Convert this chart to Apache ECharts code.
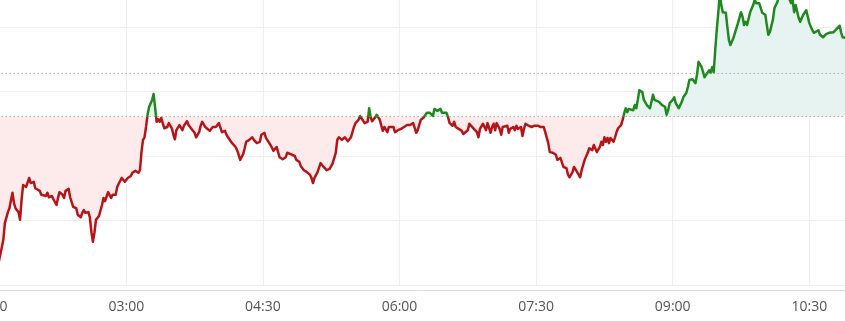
<!DOCTYPE html>
<html>
<head>
<meta charset="utf-8">
<script src="https://cdn.jsdelivr.net/npm/echarts@6/dist/echarts.min.js"></script>
<style>
html,body{margin:0;padding:0;background:#ffffff;}
#chart{width:845px;height:321px;}
</style>
</head>
<body>
<div id="chart"></div>
<script>
// Intraday quote times (HH:MM)
const times = [
"01:36","01:37","01:39","01:40","01:41","01:42","01:43","01:45","01:46","01:47","01:49","01:50","01:51","01:52","01:53","01:54","01:56","01:57","01:59",
"02:00","02:01","02:03","02:04","02:05","02:07","02:08","02:09","02:11","02:12","02:14","02:15","02:16","02:18","02:19","02:20","02:22","02:23","02:25","02:27","02:28","02:30","02:31","02:32","02:33","02:35","02:36","02:37","02:38","02:39","02:40","02:42","02:43","02:44","02:45","02:46","02:47","02:48","02:50","02:51","02:53","02:54","02:55","02:57","02:58","02:59",
"03:01","03:03","03:04","03:06","03:08","03:09","03:10","03:11","03:12","03:13","03:14","03:15","03:16","03:17","03:18","03:19","03:20","03:21","03:22","03:23","03:24","03:25","03:27","03:28","03:30","03:31","03:32","03:33","03:35","03:36","03:37","03:38","03:40","03:41","03:42","03:43","03:45","03:46","03:48","03:49","03:50","03:52","03:53","03:55","03:56","03:57","03:59",
"04:00","04:01","04:02","04:03","04:05","04:06","04:07","04:09","04:10","04:12","04:13","04:14","04:15","04:17","04:18","04:19","04:21","04:22","04:23","04:24","04:26","04:27","04:28","04:29","04:31","04:32","04:33","04:35","04:36","04:37","04:39","04:40","04:41","04:43","04:44","04:45","04:46","04:47","04:49","04:51","04:52","04:54","04:55","04:57","04:58","04:59",
"05:01","05:02","05:03","05:04","05:06","05:07","05:08","05:10","05:11","05:12","05:14","05:15","05:16","05:18","05:19","05:20","05:22","05:23","05:24","05:26","05:27","05:28","05:29","05:30","05:31","05:33","05:34","05:35","05:37","05:38","05:39","05:40","05:41","05:42","05:43","05:44","05:45","05:47","05:48","05:49","05:50","05:52","05:53","05:54","05:56","05:57","05:58","05:59",
"06:01","06:02","06:03","06:05","06:06","06:07","06:09","06:10","06:11","06:12","06:13","06:14","06:16","06:17","06:18","06:20","06:21","06:22","06:23","06:24","06:25","06:27","06:28","06:29","06:31","06:32","06:33","06:34","06:35","06:36","06:37","06:38","06:39","06:41","06:42","06:43","06:45","06:46","06:47","06:49","06:50","06:51","06:52","06:53","06:55","06:56","06:57","06:58",
"07:00","07:01","07:02","07:03","07:04","07:06","07:07","07:08","07:09","07:11","07:12","07:13","07:15","07:16","07:17","07:18","07:20","07:21","07:22","07:23","07:25","07:26","07:27","07:29","07:30","07:31","07:33","07:34","07:35","07:36","07:38","07:39","07:41","07:42","07:43","07:44","07:46","07:47","07:48","07:50","07:51","07:52","07:54","07:55","07:56","07:58","07:59",
"08:00","08:02","08:03","08:04","08:05","08:07","08:08","08:09","08:10","08:12","08:13","08:14","08:15","08:16","08:17","08:18","08:19","08:21","08:22","08:23","08:24","08:26","08:27","08:28","08:29","08:30","08:31","08:32","08:34","08:35","08:36","08:37","08:38","08:39","08:40","08:41","08:42","08:43","08:45","08:46","08:47","08:48","08:49","08:51","08:52","08:53","08:55","08:56","08:57","08:58",
"09:00","09:01","09:02","09:03","09:04","09:05","09:06","09:07","09:09","09:10","09:11","09:13","09:14","09:15","09:16","09:17","09:18","09:19","09:20","09:21","09:22","09:24","09:25","09:26","09:27","09:28","09:29","09:30","09:31","09:32","09:33","09:35","09:36","09:37","09:38","09:40","09:41","09:42","09:43","09:45","09:46","09:47","09:48","09:49","09:50","09:51","09:53","09:54","09:55","09:57","09:58","09:59",
"10:01","10:02","10:03","10:04","10:05","10:06","10:07","10:08","10:09","10:10","10:12","10:14","10:16","10:18","10:19","10:20","10:21","10:23","10:24","10:26","10:28","10:29","10:30","10:32","10:33","10:34","10:36","10:37","10:38","10:39","10:41","10:42","10:43","10:44","10:46","10:47","10:48","10:50","10:51","10:52","10:54"
];

// Price at each time
const prices = [
100.36,100.39,100.70,100.96,100.95,101.13,101.19,101.43,101.27,101.19,101.13,101.01,101.32,101.55,101.55,101.52,101.66,101.58,101.60,
101.50,101.47,101.46,101.40,101.43,101.38,101.43,101.36,101.38,101.33,101.24,101.35,101.44,101.40,101.35,101.46,101.49,101.36,101.21,101.19,101.09,101.05,101.12,101.16,101.12,101.13,101.05,100.82,100.67,100.81,101.01,101.07,101.09,101.24,101.35,101.30,101.27,101.44,101.35,101.40,101.40,101.52,101.57,101.66,101.64,101.60,
101.66,101.69,101.74,101.77,101.74,101.78,102.06,102.25,102.29,102.45,102.64,102.76,102.79,102.87,102.96,102.98,102.53,102.57,102.53,102.59,102.51,102.43,102.45,102.51,102.43,102.33,102.26,102.40,102.48,102.51,102.40,102.47,102.54,102.48,102.51,102.42,102.36,102.29,102.37,102.47,102.53,102.45,102.42,102.39,102.37,102.45,102.45,
102.47,102.51,102.51,102.37,102.39,102.33,102.29,102.22,102.20,102.14,102.09,102.02,101.94,102.03,102.12,102.22,102.25,102.22,102.29,102.25,102.20,102.19,102.22,102.33,102.36,102.28,102.25,102.17,102.14,102.08,102.14,102.06,101.98,101.95,101.94,101.98,102.05,102.02,102.02,102.00,101.94,101.91,101.84,101.78,101.81,101.75,
101.71,101.66,101.58,101.66,101.75,101.75,101.89,101.83,101.84,101.78,101.80,101.83,101.89,102.05,102.25,102.29,102.25,102.25,102.29,102.23,102.25,102.29,102.28,102.45,102.51,102.56,102.62,102.60,102.51,102.54,102.53,102.74,102.60,102.54,102.53,102.60,102.64,102.56,102.47,102.39,102.45,102.37,102.45,102.47,102.45,102.37,102.36,102.40,
102.42,102.43,102.45,102.48,102.51,102.48,102.51,102.54,102.36,102.40,102.43,102.56,102.60,102.62,102.67,102.67,102.68,102.62,102.73,102.74,102.70,102.73,102.67,102.65,102.67,102.60,102.51,102.54,102.47,102.53,102.45,102.43,102.42,102.39,102.34,102.34,102.40,102.50,102.51,102.42,102.45,102.37,102.29,102.42,102.50,102.51,102.40,102.51,
102.36,102.45,102.50,102.40,102.51,102.42,102.33,102.45,102.45,102.47,102.36,102.42,102.45,102.40,102.47,102.42,102.45,102.31,102.42,102.50,102.47,102.48,102.45,102.47,102.45,102.47,102.45,102.47,102.45,102.37,102.20,102.06,102.05,102.06,102.02,101.94,101.97,101.94,101.83,101.81,101.71,101.67,101.75,101.83,101.80,101.71,101.67,
101.78,101.94,101.97,102.05,102.12,102.09,102.17,102.14,102.06,102.14,102.22,102.17,102.29,102.22,102.28,102.20,102.28,102.22,102.29,102.37,102.43,102.48,102.56,102.66,102.74,102.68,102.73,102.74,102.71,102.79,102.74,102.87,103.02,103.05,102.99,102.87,102.84,102.79,102.74,102.84,102.95,102.87,102.90,102.84,102.84,102.79,102.76,102.64,102.71,102.82,
102.87,102.91,102.82,102.79,102.74,102.79,102.84,102.91,102.98,103.07,103.18,103.19,103.16,103.13,103.26,103.46,103.44,103.38,103.30,103.22,103.26,103.33,103.29,103.38,103.30,103.64,103.95,104.22,104.50,104.34,104.23,104.22,104.00,103.80,103.72,103.83,103.91,103.88,104.06,104.23,104.16,104.03,104.08,104.03,104.06,104.23,104.34,104.42,104.37,104.37,104.34,104.22,
104.19,104.03,103.88,103.92,103.95,104.11,104.29,104.34,104.39,104.50,104.58,104.55,104.48,104.37,104.42,104.23,104.34,104.14,104.08,104.19,104.26,104.23,104.06,103.95,103.91,103.91,103.95,103.88,103.91,103.84,103.89,103.88,103.91,103.89,103.92,103.91,103.97,104.02,103.91,103.84,103.83
];

const previousClose = 102.61;   // lower dotted reference line
const referenceLevel = 103.29;  // upper dotted reference line
const axisStart = "01:30";
const axisEnd = "10:57";
const tickStepMinutes = 90;
const priceMin = 100, priceMax = 105, priceStep = 1;

function toMinutes(s) { const p = s.split(':'); return Number(p[0]) * 60 + Number(p[1]); }
function toHHMM(v) {
  const h = Math.floor(v / 60), m = Math.round(v - h * 60);
  return String(h).padStart(2, '0') + ':' + String(m).padStart(2, '0');
}

const seriesData = times.map(function (t, i) { return [toMinutes(t), prices[i]]; });

function splitPieces(belowColor, aboveColor) {
  return [
    { gte: priceMin - 50, lt: previousClose, color: belowColor },
    { gte: previousClose, lte: priceMax + 50, color: aboveColor }
  ];
}

const chart = echarts.init(document.getElementById('chart'), null, { renderer: 'canvas' });
chart.setOption({
  animation: false,
  backgroundColor: '#ffffff',
  grid: { left: -10.3, right: -5.3, top: -37.5, bottom: 36, containLabel: false, outerBoundsMode: 'none' },
  xAxis: {
    type: 'value',
    min: toMinutes(axisStart),
    max: toMinutes(axisEnd),
    interval: tickStepMinutes,
    offset: 5,
    axisLine: { show: true, lineStyle: { color: '#dcdcdc', width: 1 } },
    axisTick: { show: false },
    axisLabel: {
      formatter: toHHMM, color: '#555555', fontSize: 14, margin: 10,
      fontFamily: 'Open Sans, Noto Sans, sans-serif',
      showMinLabel: true, showMaxLabel: false, hideOverlap: false
    },
    splitLine: { show: true, lineStyle: { color: '#eeeeee', width: 1 } }
  },
  yAxis: {
    type: 'value',
    min: priceMin, max: priceMax, interval: priceStep,
    axisLine: { show: false }, axisTick: { show: false }, axisLabel: { show: false },
    splitLine: { show: true, lineStyle: { color: '#eeeeee', width: 1 } }
  },
  visualMap: [
    { show: false, type: 'piecewise', seriesIndex: 0, dimension: 1,
      pieces: splitPieces('#fdebeb', '#e7f3f1') },
    { show: false, type: 'piecewise', seriesIndex: 1, dimension: 1,
      pieces: splitPieces('#b81418', '#1e8a1e') }
  ],
  series: [
    {
      type: 'line', data: seriesData, symbol: 'none', silent: true, z: 1,
      lineStyle: { width: 0 },
      areaStyle: { origin: previousClose, opacity: 1 }
    },
    {
      type: 'line', data: seriesData, symbol: 'none', silent: true, z: 3,
      lineStyle: { width: 2.5, join: 'round' },
      markLine: {
        silent: true, symbol: ['none', 'none'], animation: false,
        label: { show: false },
        lineStyle: { type: [1, 3], color: '#8a8a8a', width: 1 },
        data: [{ yAxis: previousClose }, { yAxis: referenceLevel }]
      }
    }
  ]
});
</script>
</body>
</html>
